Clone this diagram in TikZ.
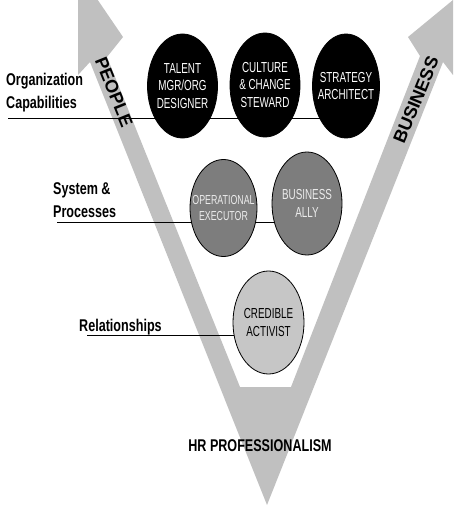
\documentclass[tikz,border=0pt]{standalone}
\usepackage{fontspec}
\setmainfont{Liberation Sans}
\newfontfamily\narrowfont{Liberation Sans}[FakeStretch=0.68]
\newfontfamily\labelfont{Liberation Sans}[FakeStretch=0.74]
\usepackage{tkz-euclide}
\usetikzlibrary{shapes.geometric,backgrounds}
\definecolor{ArmClr}{RGB}{192,192,192}
\definecolor{MidClr}{RGB}{125,125,125}
\definecolor{SoftClr}{RGB}{198,198,198}
\definecolor{PaleTextClr}{RGB}{236,236,236}

\begin{document}
\begin{tikzpicture}[x=1pt,y=-1pt,
  role/.style={ellipse,draw=black,line width=.8pt,minimum width=70pt,minimum height=104pt,
    inner xsep=-8pt,inner ysep=0pt,align=center,font=\narrowfont\fontsize{14.5}{17.5}\selectfont},
  level/.style={font=\labelfont\bfseries\fontsize{17}{23}\selectfont,align=left,inner sep=0pt,anchor=base west},
  arm/.style={font=\bfseries\fontsize{18}{18}\selectfont,inner sep=0pt},
  tie/.style={line width=.8pt}]
\useasboundingbox (0,0) rectangle (474,508);

\node[role,fill=black,text=white] (talent) at (182.5,86) {TALENT\\MGR/ORG\\DESIGNER};
\node[role,fill=black,text=white] (culture) at (265,85) {CULTURE\\\& CHANGE\\STEWARD};
\node[role,fill=black,text=white,minimum width=67pt] (strategy) at (346,86) {STRATEGY\\ARCHITECT};

\node[role,fill=MidClr,text=PaleTextClr,minimum width=67pt,minimum height=97pt,
  font=\narrowfont\fontsize{13}{15.5}\selectfont] (operational) at (223.5,208) {OPERATIONAL\\EXECUTOR};
\node[role,fill=MidClr,text=PaleTextClr,minimum height=103pt] (ally) at (307,203.5) {BUSINESS\\ALLY};

\node[role,fill=SoftClr,minimum width=71pt,minimum height=103pt] (credible) at (268.5,322.5) {CREDIBLE\\ACTIVIST};

\node[level] (orglbl) at (6,109) {Organization\\Capabilities};
\node[level] (syslbl) at (53,217) {System \&\\Processes};
\node[level] (rellbl) at (79,331) {Relationships};
\node[level,anchor=base] (hrlbl) at (260,451) {HR PROFESSIONALISM};

\node[arm,rotate=-68] (people) at (114,92) {PEOPLE};
\node[arm,rotate=67.6] (business) at (416,100) {BUSINESS};

\begin{scope}[on background layer]
\clip (0,0) rectangle (474,508);
\tkzDefPoints{267/505/O,90/62/A,78/75/B,78/-29/C,123/37/D,107/57/E,240/387/F,
  291/387/G,420/56/H,408/37/I,453/0/J,453/75/K,443/62/L}
\tkzFillPolygon[fill=ArmClr](O,A,B,C,D,E,F,G,H,I,J,K,L)

\coordinate (orgstart) at (8,118.5);
\coordinate (sysstart) at (57,222.7);
\coordinate (relstart) at (87,335);
\draw[tie] (orgstart) -- (orgstart -| strategy);
\draw[tie] (sysstart) -- (sysstart -| ally);
\draw[tie] (relstart) -- (relstart -| credible);
\end{scope}

\end{tikzpicture}
\end{document}
